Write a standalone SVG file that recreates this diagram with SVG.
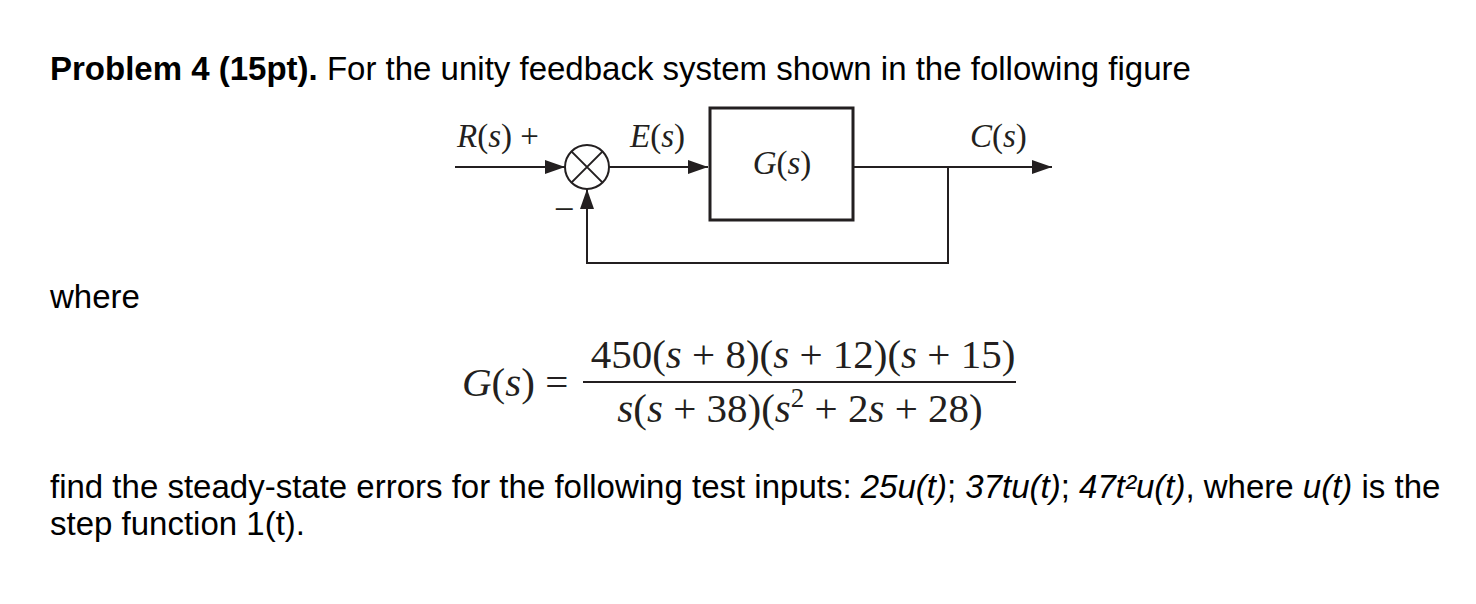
<svg xmlns="http://www.w3.org/2000/svg" width="1476" height="604" viewBox="0 0 1476 604">
<defs>
<style>
.t{font-family:"Liberation Sans",Arial,sans-serif;font-size:33px;fill:#000}
.m{font-family:"Liberation Serif","Times New Roman",serif;font-size:33px;fill:#231f20}
.e{font-family:"Liberation Serif","Times New Roman",serif;font-size:41px;fill:#231f20}
.l{stroke:#231f20;stroke-width:2;fill:none}
</style>
<marker id="a" markerWidth="20" markerHeight="14" refX="20" refY="7" orient="auto" markerUnits="userSpaceOnUse"><path d="M0,0L20,7L0,14z" fill="#231f20"/></marker>
</defs>
<rect width="1476" height="604" fill="#fff"/>
<text class="t" x="50" y="80"><tspan font-weight="bold">Problem 4 (15pt).</tspan> For the unity feedback system shown in the following figure</text>
<g id="sum"><circle class="l" cx="587" cy="167" r="22"/><path class="l" d="M571.4,151.4L602.6,182.6M602.6,151.4L571.4,182.6"/></g>
<g id="G"><rect x="710" y="108" width="143" height="112" fill="none" stroke="#231f20" stroke-width="3"/><text class="m" x="782" y="174" text-anchor="middle"><tspan font-style="italic">G</tspan>(<tspan font-style="italic">s</tspan>)</text></g>
<g id="connectors">
<path class="l" d="M455,167H565" marker-end="url(#a)"/>
<path class="l" d="M609,167H708" marker-end="url(#a)"/>
<path class="l" d="M853,167H1052" marker-end="url(#a)"/>
<path class="l" d="M948,167V263H587V189" marker-end="url(#a)"/>
</g>
<g id="labels">
<text class="m" x="457" y="147"><tspan font-style="italic">R</tspan>(<tspan font-style="italic">s</tspan>)  +</text>
<text class="m" x="630" y="147"><tspan font-style="italic">E</tspan>(<tspan font-style="italic">s</tspan>)</text>
<text class="m" x="970" y="147"><tspan font-style="italic">C</tspan>(<tspan font-style="italic">s</tspan>)</text>
<text class="m" x="556" y="217">–</text>
</g>
<text class="t" x="50" y="308">where</text>
<text class="e" x="462" y="396"><tspan font-style="italic">G</tspan>(<tspan font-style="italic">s</tspan>) =</text>
<line x1="583" y1="382" x2="1016" y2="382" stroke="#231f20" stroke-width="2"/>
<text class="e" x="803" y="368" text-anchor="middle">450(<tspan font-style="italic">s</tspan> + 8)(<tspan font-style="italic">s</tspan> + 12)(<tspan font-style="italic">s</tspan> + 15)</text>
<text class="e" x="800" y="422" text-anchor="middle"><tspan font-style="italic">s</tspan>(<tspan font-style="italic">s</tspan> + 38)(<tspan font-style="italic">s</tspan><tspan font-size="27" dy="-15">2</tspan><tspan dy="15"> + 2</tspan><tspan font-style="italic">s</tspan> + 28)</text>
<text class="t" x="50" y="498">find the steady-state errors for the following test inputs: <tspan font-style="italic">25u(t)</tspan>; <tspan font-style="italic">37tu(t)</tspan>; <tspan font-style="italic">47t²u(t)</tspan>, where <tspan font-style="italic">u(t)</tspan> is the</text>
<text class="t" x="50" y="535">step function 1(t).</text>
</svg>
